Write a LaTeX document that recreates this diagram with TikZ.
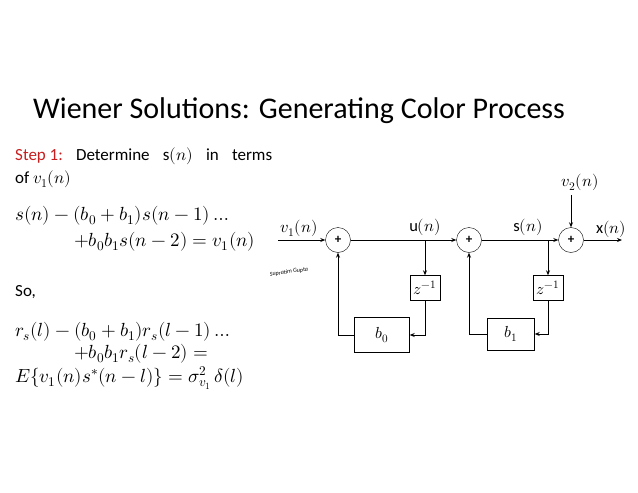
\documentclass[tikz,border=0pt]{standalone}
\usepackage{unicode-math}
\setmainfont{Carlito}
\setmathfont{Latin Modern Math}
\usetikzlibrary{arrows.meta}
\tikzset{
 sumnode/.style={draw,circle,minimum size=25pt,inner sep=0pt,font=\fontsize{13}{13}\selectfont\bfseries},
 blk/.style={draw,minimum width=30pt,minimum height=25pt,inner sep=0pt,font=\fontsize{16}{16}\selectfont},
 bigblk/.style={draw,minimum width=55pt,minimum height=35pt,inner sep=0pt,font=\fontsize{16}{16}\selectfont},
 sig/.style={-{Stealth[length=5pt,width=4pt]},line width=0.8pt},
 lbl/.style={font=\fontsize{16.5}{16}\selectfont},
 txt/.style={anchor=base west,inner sep=0pt,font=\fontsize{17}{17}\selectfont},
 mtxt/.style={anchor=base west,inner sep=0pt,font=\fontsize{19}{19}\selectfont}
}
\begin{document}
\begin{tikzpicture}[x=1pt,y=-1pt]
\useasboundingbox (0,0) rectangle (638,493);
\node[anchor=base west,inner sep=0pt,font=\fontsize{30}{30}\selectfont] (title) at (33,118) {Wiener Solutions: Generating Color Process};
\node[txt] (t1) at (15,160) {\hbox to 257pt{\textcolor[RGB]{200,30,30}{Step 1:}\hfill Determine\hfill s$(n)$\hfill in\hfill terms}};
\node[txt] (t2) at (15,183) {of $v_1(n)$};
\node[mtxt] (t3) at (15,220) {$s(n)-(b_0+b_1)s(n-1)\ldots$};
\node[mtxt] (t4) at (74,246) {$+b_0b_1s(n-2)=v_1(n)$};
\node[txt] (t5) at (15,296) {So,};
\node[mtxt] (t6) at (15,336) {$r_s(l)-(b_0+b_1)r_s(l-1)\ldots$};
\node[mtxt] (t7) at (74,358) {$+b_0b_1r_s(l-2)=$};
\node[mtxt] (t8) at (15,382) {$E\{v_1(n)s^*(n-l)\}=\sigma_{v_1}^2\,\delta(l)$};

\node[sumnode] (s1) at (338,240) {+};
\node[sumnode] (s2) at (469,240) {+};
\node[sumnode] (s3) at (571,240) {+};
\node[blk] (z1) at (425,288) {$z^{-1}$};
\node[blk] (z2) at (548,288) {$z^{-1}$};
\node[bigblk] (b0) at (382,335) {$b_0$};
\node[bigblk,minimum width=47pt,minimum height=32pt] (b1) at (511,334) {$b_1$};
\coordinate (in) at (278,240);
\coordinate (out) at (622,240);
\coordinate (v2t) at (571,195);
\coordinate (ub) at (425,240);
\coordinate (sb) at (548,240);

\draw[sig] (in) -- (s1);
\draw[sig] (s1) -- (s2);
\draw[sig] (s2) -- (s3);
\draw[sig] (s3) -- (out);
\draw[sig] (v2t) -- (s3);
\draw[sig] (ub) -- (z1);
\draw[sig] (sb) -- (z2);
\draw[sig] (z1.south) |- (b0.east);
\draw[sig] (z2.south) |- (b1.east);
\draw[sig] (b0.west) -| (s1.south);
\draw[sig] (b1.west) -| (s2.south);

\node[lbl] (l1) at (299,228) {$v_1(n)$};
\node[lbl] (l2) at (425,227) {u$(n)$};
\node[lbl] (l3) at (528,227) {s$(n)$};
\node[lbl] (l4) at (611,229) {x$(n)$};
\node[lbl] (l5) at (580,182) {$v_2(n)$};
\node[font=\fontsize{6}{6}\selectfont\itshape,rotate=8] (sg) at (289,272) {Supratim Gupta};
\end{tikzpicture}
\end{document}
